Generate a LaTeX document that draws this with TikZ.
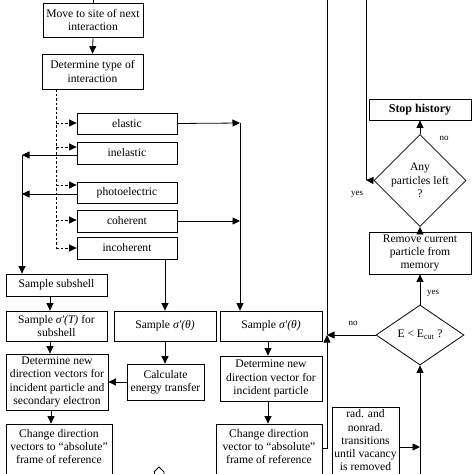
\documentclass[tikz,border=0pt]{standalone}
\usepackage{fontspec}
\setmainfont{Liberation Serif}
\usetikzlibrary{shapes.geometric,arrows.meta}
\begin{document}
\begin{tikzpicture}[x=1pt,y=-1pt,
  box/.style={draw, line width=0.8pt, align=center, inner sep=0pt, font=\fontsize{11.6}{13.3}\selectfont},
  dbox/.style={draw, diamond, line width=0.8pt, align=center, inner sep=0pt, font=\fontsize{11.6}{13.3}\selectfont},
  arr/.style={line width=0.8pt, -{Triangle[length=7.5pt,width=7pt]}},
  ln/.style={line width=0.8pt},
  dsh/.style={line width=0.7pt, dash pattern=on 2.5pt off 2pt},
  darr/.style={dsh, -{Triangle[length=7.5pt,width=7pt]}},
  lab/.style={font=\fontsize{9}{10}\selectfont, inner sep=0pt}]
\useasboundingbox (0,0) rectangle (474,474);
\clip (0,0) rectangle (474,474);

% boxes
\node[box, minimum width=100pt, minimum height=34pt] (move) at (93,20) {Move to site of next\\interaction};
\node[box, minimum width=101pt, minimum height=35pt] (dtype) at (92.5,71.5) {Determine type of\\interaction};
\node[box, minimum width=100pt, minimum height=21pt] (elastic) at (127,123.5) {elastic};
\node[box, minimum width=100pt, minimum height=22pt] (inel) at (127,153) {inelastic};
\node[box, minimum width=100pt, minimum height=21pt] (photo) at (127,192.5) {photoelectric};
\node[box, minimum width=100pt, minimum height=22pt] (coh) at (127,221) {coherent};
\node[box, minimum width=100pt, minimum height=22pt] (incoh) at (127,248) {incoherent};
\node[box, minimum width=101pt, minimum height=22pt] (subshell) at (56.5,285) {Sample subshell};
\node[box, minimum width=101pt, minimum height=30pt] (sampT) at (56.5,326) {Sample \textit{σ′(T)} for\\subshell};
\node[box, minimum width=102pt, minimum height=30pt] (sampM) at (165,326) {Sample \textit{σ′(θ)}};
\node[box, minimum width=102pt, minimum height=30pt] (sampR) at (271,326) {Sample \textit{σ′(θ)}};
\node[box, minimum width=102pt, minimum height=56pt] (detL) at (57,382) {Determine new\\direction vectors for\\incident particle and\\secondary electron};
\node[box, minimum width=77pt, minimum height=36pt] (calc) at (165.5,382) {Calculate\\energy transfer};
\node[box, minimum width=102pt, minimum height=45pt] (detR) at (271,378.5) {Determine new\\direction vector for\\incident particle};
\node[box, minimum width=106pt, minimum height=58pt] (chL) at (59,453) {Change direction\\vectors to “absolute”\\frame of reference\\\mbox{}};
\node[box, minimum width=106pt, minimum height=58pt] (chR) at (269,453) {Change direction\\vector to “absolute”\\frame of reference\\\mbox{}};
\node[box, minimum width=67pt, minimum height=80pt] (rad) at (365.5,447) {rad. and\\nonrad.\\transitions\\until vacancy\\is removed\\\mbox{}};
\node[box, minimum width=102pt, minimum height=21pt, font=\fontsize{12}{13.8}\selectfont\bfseries] (stop) at (420,109.5) {Stop history};
\node[box, minimum width=102pt, minimum height=42pt] (remove) at (420,253) {Remove current\\particle from\\memory};
\node[dbox, minimum width=88pt, minimum height=61pt] (any) at (420,180.5) {Any\\particles left\\?};
\node[dbox, minimum width=88pt, minimum height=60pt] (ecut) at (420,335) {E < E\textsubscript{cut} ?};

% helper coordinates
\coordinate (topM) at (93,0);
\coordinate (dtop) at (56,89);
\coordinate (vL) at (22,155);
\coordinate (vR) at (240,123);
\coordinate (jn) at (327,335);
\coordinate (jtop) at (327,0);
\coordinate (kn) at (366,180);
\coordinate (ktop) at (366,0);
\coordinate (bot) at (420,480);
\coordinate (smalld) at (159,467);

% connectors
\draw[ln] (topM) -- (move.north);
\draw[arr] (move.south) -- (dtype.north);
\draw[dsh] (dtop) -- (56,248);
\draw[darr] (56,123) -- (elastic.west |- 56,123);
\draw[darr] (56,147) -- (inel.west |- 56,147);
\draw[darr] (56,185) -- (photo.west |- 56,185);
\draw[darr] (56,220) -- (coh.west |- 56,220);
\draw[darr] (56,248) -- (incoh.west);

\draw[arr] (inel.west |- vL) -- (vL);
\draw[arr] (photo.west |- 22,194) -- (22,194);
\draw[arr] (vL) -- (vL |- subshell.north);

\draw[arr] (elastic.east) -- (vR);
\draw[arr] (coh.east) -- (240,221);
\draw[arr] (vR) -- (vR |- sampR.north);
\draw[arr] (incoh.south -| sampM.north) -- (sampM.north);

\draw[arr] (subshell.south -| 50,0) -- (sampT.north -| 50,0);
\draw[arr] (sampT.south -| 50,0) -- (detL.north -| 50,0);
\draw[arr] (sampM.south) -- (calc.north -| sampM.south);
\draw[arr] (calc.west) -- (detL.east |- calc.west);
\draw[arr] (detL.south -| 51,0) -- (chL.north -| 51,0);
\draw[arr] (sampR.south -| 268,0) -- (detR.north -| 268,0);
\draw[arr] (detR.south -| 268,0) -- (chR.north -| 268,0);

\draw[arr] (chR.east |- 0,448) -| (jn);
\draw[arr] (ecut.west) -- (jn);
\draw[ln] (jn) -- (jtop);
\draw[ln] (ktop) -- (kn);
\draw[arr] (any.west) -- (kn);
\draw[arr] (any.north) -- (stop.south);
\draw[arr] (remove.north) -- (any.south);
\draw[arr] (ecut.north) -- (remove.south);
\draw[arr] (bot) -- (ecut.south);
\draw[arr] (rad.east |- 0,447) -- (420,447);

% partial shape at bottom
\draw[ln] (154,472) -- (smalld) -- (164,472) -- (164,480);
\draw[ln] (154,472) -- (154,480);

% labels
\node[lab] (l1) at (444,138) {no};
\node[lab] (l2) at (357,194) {yes};
\node[lab] (l3) at (433,293) {yes};
\node[lab] (l4) at (353,323) {no};
\end{tikzpicture}
\end{document}
